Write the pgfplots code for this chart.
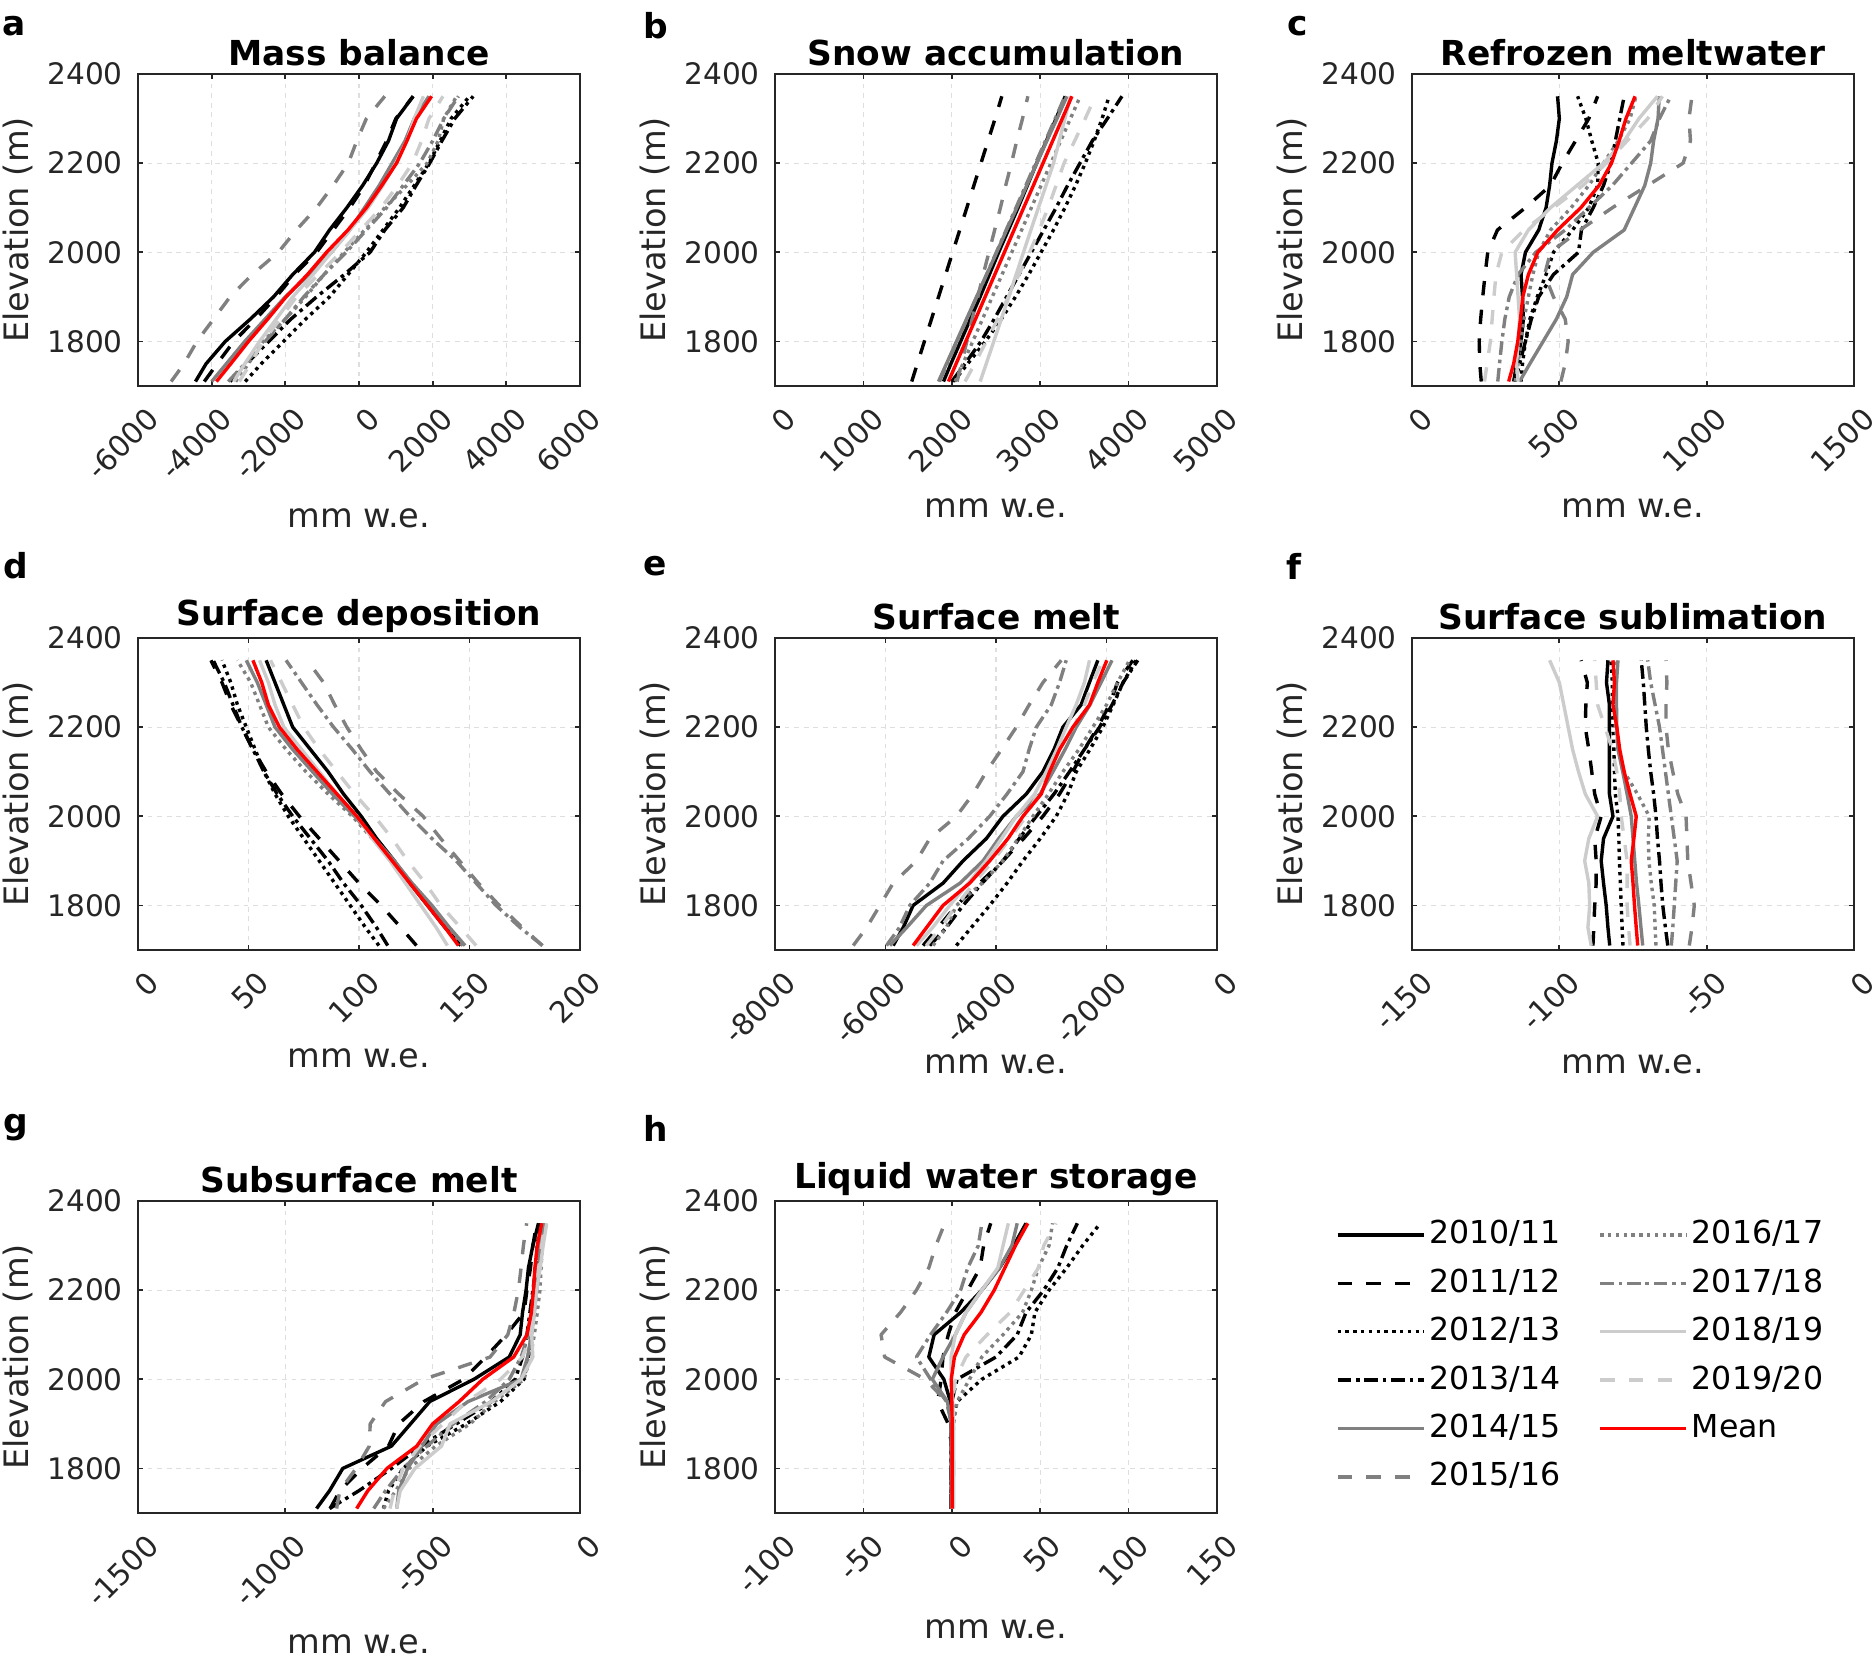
\documentclass[border=0pt]{standalone}
\usepackage{fontspec}
\setmainfont{DejaVu Sans}
\usepackage{pgfplots}
\pgfplotsset{compat=1.18}
\usepackage{pgfplotstable}

\definecolor{axc}{RGB}{38,38,38}
\definecolor{gA}{RGB}{128,128,128}
\definecolor{gB}{RGB}{204,204,204}
\definecolor{gridc}{RGB}{222,222,222}

\pgfplotsset{
 yrline/.style={line width=0.85pt, mark=none, line join=round},
 s10/.style={yrline, black, solid},
 s11/.style={yrline, black, dash pattern=on 3.6pt off 3.6pt},
 s12/.style={yrline, black, dash pattern=on 0.85pt off 1.1pt},
 s13/.style={yrline, black, dash pattern=on 3.4pt off 1.2pt on 0.9pt off 1.2pt},
 s14/.style={yrline, gA, solid},
 s15/.style={yrline, gA, dash pattern=on 3.6pt off 3.6pt},
 s16/.style={yrline, gA, dash pattern=on 0.85pt off 1.1pt},
 s17/.style={yrline, gA, dash pattern=on 3.4pt off 1.2pt on 0.9pt off 1.2pt},
 s18/.style={yrline, gB, solid},
 s19/.style={yrline, gB, dash pattern=on 3.6pt off 3.6pt},
 smean/.style={yrline, red, solid},
 every axis title shift=0pt,
 panel/.style={
  scale only axis, width=110.5pt, height=78pt, anchor=north west,
  ymin=1700, ymax=2400, ytick={1800,2000,2200,2400},
  grid=major,
  major grid style={gridc, line width=0.3pt, dash pattern=on 1.2pt off 1.2pt},
  axis line style={axc, line width=0.45pt},
  every tick/.style={axc, line width=0.45pt},
  tick align=inside, major tick length=1.2pt,
  /pgf/number format/assume math mode=true,
  /pgf/number format/1000 sep={},
  scaled ticks=false,
  ticklabel style={font=\fontsize{7.4}{8}\selectfont, text=axc},
  xticklabel style={xshift=1.75pt, yshift=-4.6pt, rotate=45, anchor=north east, inner sep=0pt},
  yticklabel style={anchor=east, inner sep=0pt, xshift=-3.6pt},
  label style={font=\fontsize{8.4}{10}\selectfont, text=axc},
  xlabel={mm w.e.}, ylabel={Elevation (m)},
  ylabel style={at={(axis description cs:-0.272,0.5)}, anchor=center},
  title style={at={(axis description cs:0.5,1.069)}, anchor=center, font=\bfseries\fontsize{8.6}{10}\selectfont, text=black},
 }
}

\newcommand{\allplots}[1]{%
 \addplot[s10] table[x=s10,y=E]{#1};
 \addplot[s11] table[x=s11,y=E]{#1};
 \addplot[s12] table[x=s12,y=E]{#1};
 \addplot[s13] table[x=s13,y=E]{#1};
 \addplot[s14] table[x=s14,y=E]{#1};
 \addplot[s15] table[x=s15,y=E]{#1};
 \addplot[s16] table[x=s16,y=E]{#1};
 \addplot[s17] table[x=s17,y=E]{#1};
 \addplot[s18] table[x=s18,y=E]{#1};
 \addplot[s19] table[x=s19,y=E]{#1};
 \addplot[smean] table[x=m,y=E]{#1};
}

% a: Mass balance
\pgfplotstableread{
E s10 s11 s12 s13 s14 s15 s16 s17 s18 s19 m
1710 -4440 -4200 -3090 -3500 -4000 -5100 -3350 -3550 -3400 -3250 -3870
1750 -4150 -3850 -2650 -3050 -3600 -4750 -3000 -3100 -3100 -2950 -3480
1800 -3630 -3400 -2050 -2450 -3100 -4400 -2600 -2550 -2700 -2600 -3000
1850 -2950 -2800 -1450 -1850 -2550 -3950 -2000 -2000 -2250 -2150 -2480
1900 -2320 -2250 -800 -1150 -2000 -3500 -1450 -1500 -1800 -1700 -1980
1950 -1800 -1750 -300 -400 -1350 -2900 -950 -950 -1250 -1100 -1400
2000 -1210 -1150 200 300 -750 -2190 -400 -350 -750 -500 -880
2050 -800 -700 650 700 -250 -1700 150 200 -250 50 -300
2100 -330 -250 1100 1200 150 -1150 700 750 250 600 200
2150 100 150 1500 1550 550 -700 1300 1200 650 1050 620
2200 480 450 1900 1920 900 -290 1850 1650 1000 1450 1020
2250 800 750 2200 2250 1250 -60 2150 2000 1300 1700 1300
2300 1020 1000 2500 2600 1500 200 2300 2300 1500 1900 1560
2350 1470 1470 3000 3100 1900 700 2650 2700 1750 2280 1970
}\ta

% b: Snow accumulation
\pgfplotstableread{
E s10 s11 s12 s13 s14 s15 s16 s17 s18 s19 m
1710 1906 1547 2020 2000 1849 2060 2038 1860 2321 2150 1962
1750 1990 1610 2180 2150 1940 2110 2126 1949 2390 2260 2049
1800 2100 1690 2380 2330 2053 2170 2237 2060 2475 2390 2158
1850 2210 1770 2560 2480 2166 2230 2347 2171 2560 2520 2268
1900 2320 1850 2720 2620 2280 2295 2458 2282 2645 2640 2377
1950 2425 1930 2870 2760 2394 2355 2568 2393 2728 2760 2486
2000 2530 2010 3010 2900 2508 2420 2679 2504 2811 2880 2595
2050 2640 2090 3150 3040 2620 2485 2790 2615 2895 2990 2704
2100 2750 2170 3280 3180 2735 2550 2900 2726 2980 3090 2813
2150 2855 2250 3400 3310 2848 2610 3010 2837 3066 3180 2923
2200 2960 2330 3510 3450 2962 2675 3121 2948 3151 3270 3032
2250 3070 2410 3610 3590 3075 2735 3232 3059 3215 3390 3141
2300 3180 2490 3700 3760 3190 2800 3342 3170 3280 3510 3250
2350 3283 2566 3780 3925 3302 2861 3453 3280 3340 3623 3359
}\tb

% c: Refrozen meltwater
\pgfplotstableread{
E s10 s11 s12 s13 s14 s15 s16 s17 s18 s19 m
1710 345 235 370 350 365 505 350 291 360 246 328
1750 355 230 375 365 400 520 360 297 355 255 345
1800 370 228 385 385 445 530 370 305 360 266 359
1850 378 233 400 405 490 520 380 315 365 272 368
1900 375 240 425 430 525 480 395 330 360 278 376
1950 370 248 455 480 545 450 410 360 355 285 395
2000 385 257 480 565 615 470 430 420 350 305 427
2050 430 290 545 575 720 570 470 520 395 380 494
2100 455 385 600 615 755 680 540 600 470 480 573
2150 467 470 630 650 790 800 600 680 560 580 635
2200 475 510 632 675 810 920 650 745 650 660 677
2250 490 555 610 690 820 945 700 810 720 730 703
2300 500 600 590 705 835 940 740 840 770 800 726
2350 494 630 562 720 839 950 760 878 833 850 757
}\tc

% d: Surface deposition
\pgfplotstableread{
E s10 s11 s12 s13 s14 s15 s16 s17 s18 s19 m
1710 146 126 109 113 148 183 147 183 140 153 145
1750 139 119 103 108 141 174 139 173 135 146 139
1800 131 110 96 101 133 163.5 131 162 128 137 131
1850 123 100 89 93 124 154 123 153 121 130 123
1900 116 91 82 86 116 145.5 115 144 114 122 115
1950 108 82 75 78 107 137 106 133 106 115 107
2000 101 73 68 70 98 129 97 123 99 107 99
2050 93 65 62 63 88 118 86 114 90 98 90
2100 86 58 57 57 79 108 76 105 82 90 81
2150 78 52 53 52 70 101 67 97 74 82 72
2200 70 47 49 47 62 94.5 59 88.5 66 75 64
2250 66 42 45 43 58 89 55 81 62 70 59
2300 62 38 42 39 54 84 51 74 59 65 56
2350 58 33 38 34 49 76.5 45 67 55 60 52
}\td

% e: Surface melt
\pgfplotstableread{
E s10 s11 s12 s13 s14 s15 s16 s17 s18 s19 m
1710 -5861 -5320 -4717 -5199 -5921 -6584 -5139 -5982 -5440 -5259 -5500
1750 -5681 -5050 -4450 -4900 -5620 -6343 -4900 -5750 -5150 -5000 -5259
1800 -5500 -4717 -4114 -4596 -5259 -6102 -4717 -5560 -4837 -4717 -4958
1850 -4958 -4300 -3800 -4250 -4650 -5861 -4250 -5199 -4500 -4400 -4476
1900 -4596 -3873 -3512 -3873 -4235 -5440 -3873 -4958 -4175 -4050 -4114
1950 -4175 -3500 -3200 -3580 -3950 -5199 -3600 -4500 -3900 -3750 -3783
2000 -3873 -3151 -2910 -3271 -3632 -4717 -3331 -4114 -3632 -3452 -3512
2050 -3452 -2850 -2700 -2950 -3200 -4416 -3050 -3800 -3300 -3250 -3181
2100 -3151 -2608 -2548 -2669 -2969 -4175 -2789 -3512 -3090 -3050 -3030
2150 -2950 -2400 -2300 -2400 -2750 -3900 -2500 -3400 -2900 -2850 -2849
2200 -2789 -2157 -2066 -2126 -2548 -3632 -2247 -3271 -2729 -2600 -2608
2250 -2460 -1950 -1880 -1900 -2300 -3400 -2000 -3000 -2550 -2400 -2307
2300 -2310 -1800 -1700 -1700 -2100 -3151 -1800 -2850 -2400 -2250 -2157
2350 -2157 -1524 -1464 -1434 -1900 -2819 -1584 -2729 -2307 -2066 -1994
}\te

% f: Surface sublimation
\pgfplotstableread{
E s10 s11 s12 s13 s14 s15 s16 s17 s18 s19 m
1710 -82.9 -88.6 -78.4 -63.2 -71.7 -55.9 -67.2 -62 -89.2 -76 -73.4
1750 -83.5 -88.3 -78.7 -64 -72.3 -55 -67.5 -61.5 -90.3 -76.5 -73.9
1800 -84.1 -88 -79 -64.9 -73 -54.2 -67.8 -61 -89.7 -77 -74.5
1850 -85 -87.5 -79.3 -65.5 -73.8 -55.3 -68.8 -60.5 -90 -77 -75
1900 -85.8 -87.5 -79.6 -66 -74.4 -56.4 -69.6 -60 -91.4 -77 -75.6
1950 -85 -88 -79.8 -66.7 -75 -56.7 -69.8 -61 -90 -78 -74.7
2000 -81.8 -85.8 -80.1 -67.2 -75.6 -57 -69.5 -62 -87 -79 -73.9
2050 -83 -88 -81 -68 -77 -59.8 -73.5 -63 -91.2 -79.5 -76
2100 -83 -89 -81.3 -69 -78.5 -61.5 -78 -64 -93.5 -80.5 -78
2150 -83 -90 -81.5 -69.8 -80.1 -63 -80 -65 -95.5 -82 -79.5
2200 -83 -91.2 -81.8 -70.5 -80.5 -63.8 -81 -66 -97 -84.5 -80.5
2250 -83 -91 -82 -71 -80.6 -63.8 -81 -67.5 -98.5 -87 -81.8
2300 -84 -90.5 -82 -71.5 -80.6 -63.5 -81.5 -69 -100 -87.5 -81.3
2350 -83.5 -92.6 -82.5 -72.2 -80.1 -63.8 -81 -70 -103.3 -88 -81.8
}\tf

% g: Subsurface melt
\pgfplotstableread{
E s10 s11 s12 s13 s14 s15 s16 s17 s18 s19 m
1710 -894 -848 -667 -850 -622 -826 -667 -700 -622 -645 -758
1750 -850 -815 -650 -750 -615 -815 -625 -660 -610 -630 -720
1800 -805 -740 -600 -640 -585 -760 -580 -600 -560 -600 -655
1850 -640 -650 -520 -540 -537 -715 -490 -520 -470 -545 -554
1900 -575 -615 -385 -420 -486 -712 -373 -430 -441 -465 -500
1950 -510 -530 -270 -300 -380 -660 -290 -320 -300 -385 -410
2000 -360 -395 -190 -220 -200 -530 -190 -240 -200 -270 -330
2050 -240 -320 -175 -195 -178 -305 -168 -200 -160 -195 -225
2100 -203 -250 -165 -180 -165 -245 -155 -175 -164 -167 -180
2150 -195 -190 -160 -170 -155 -224 -145 -160 -155 -160 -165
2200 -183 -180 -155 -160 -147 -209 -136 -150 -147 -153 -158
2250 -175 -168 -145 -150 -140 -200 -132 -145 -135 -140 -153
2300 -160 -160 -135 -145 -135 -192 -128 -135 -125 -130 -145
2350 -141 -147 -125 -135 -124 -181 -119 -120 -113 -119 -130
}\tg

% h: Liquid water storage
\pgfplotstableread{
E s10 s11 s12 s13 s14 s15 s16 s17 s18 s19 m
1710 -0.2 -0.5 -0.4 -0.2 -0.2 -0.3 0.5 0 1 0.3 0.2
1750 -0.2 -0.5 -0.4 -0.2 -0.2 -0.3 0.5 0 1 0.3 0.2
1800 -0.3 -0.5 -0.4 -0.2 -0.2 -0.3 0.5 0 1.2 0.3 0.2
1850 -0.3 0 -0.4 -0.2 -0.3 -0.3 0.5 0 1 0.3 0.2
1900 -0.4 -2 0 -0.2 -0.4 0 1 0 1 0.3 0.2
1950 -0.8 -8 3 0 -2.5 -3 3 -3 0.5 0.5 0
2000 -4.5 -6 17 3 -11 -15 10 -12 -0.3 2 -0.3
2050 -13 -5 38 25 -5 -38 17 -20 -0.4 8 1.5
2100 -10 -2 45 37 2 -40 29 -12 2 20 7
2150 5 2 47 42 8 -29 40 -3 8 33 16.5
2200 17 9 55 52 17 -20 45 5 17 41 24
2250 27 16 65 60 27 -13 49 9 26 49 30
2300 35 18 74 65 34 -9 55 15 29 52 36
2350 42 22 84 71 37 -4 57 17 32 59 43
}\th

\begin{document}
\begin{tikzpicture}
\path[use as bounding box] (0,0) rectangle (468.75pt,-414.75pt);

\begin{axis}[panel, at={(34.5pt,-18.5pt)}, xmin=-6000, xmax=6000,
  xtick={-6000,-4000,-2000,0,2000,4000,6000}, title={Mass balance},
  xlabel style={at={(axis description cs:0.5,-0.423)}, anchor=center}]
\allplots{\ta}
\end{axis}

\begin{axis}[panel, at={(193.75pt,-18.5pt)}, xmin=0, xmax=5000,
  xtick={0,1000,2000,3000,4000,5000}, title={Snow accumulation},
  xlabel style={at={(axis description cs:0.5,-0.393)}, anchor=center}]
\allplots{\tb}
\end{axis}

\begin{axis}[panel, at={(353pt,-18.5pt)}, xmin=0, xmax=1500,
  xtick={0,500,1000,1500}, title={Refrozen meltwater},
  xlabel style={at={(axis description cs:0.5,-0.393)}, anchor=center}]
\allplots{\tc}
\end{axis}

\begin{axis}[panel, at={(34.5pt,-159.5pt)}, xmin=0, xmax=200,
  xtick={0,50,100,150,200}, title={Surface deposition},
  xlabel style={at={(axis description cs:0.5,-0.348)}, anchor=center}]
\allplots{\td}
\end{axis}

\begin{axis}[panel, at={(193.75pt,-159.5pt)}, xmin=-8000, xmax=0,
  xtick={-8000,-6000,-4000,-2000,0}, title={Surface melt},
  xlabel style={at={(axis description cs:0.5,-0.367)}, anchor=center}]
\allplots{\te}
\end{axis}

\begin{axis}[panel, at={(353pt,-159.5pt)}, xmin=-150, xmax=0,
  xtick={-150,-100,-50,0}, title={Surface sublimation},
  xlabel style={at={(axis description cs:0.5,-0.367)}, anchor=center}]
\allplots{\tf}
\end{axis}

\begin{axis}[panel, at={(34.5pt,-300.25pt)}, xmin=-1500, xmax=0,
  xtick={-1500,-1000,-500,0}, title={Subsurface melt},
  xlabel style={at={(axis description cs:0.5,-0.421)}, anchor=center}]
\allplots{\tg}
\end{axis}

\begin{axis}[panel, at={(193.75pt,-300.25pt)}, xmin=-100, xmax=150,
  xtick={-100,-50,0,50,100,150}, title={Liquid water storage},
  xlabel style={at={(axis description cs:0.5,-0.372)}, anchor=center}]
\allplots{\th}
\end{axis}

% legend
\begin{axis}[at={(333.75pt,-303.75pt)}, anchor=north west, hide axis,
  scale only axis, width=5pt, height=5pt, xmin=0, xmax=1, ymin=0, ymax=1,
  legend columns=2,
  legend image code/.code={\draw[#1] (0pt,0pt) -- (21.5pt,0pt);},
  legend cell align=left,
  legend style={at={(0,1)}, anchor=north west, draw=none, fill=none,
    inner sep=0pt, font=\fontsize{7.9}{9}\selectfont, row sep=2.6pt,
    nodes={inner sep=1pt, text height=6pt, text depth=1.5pt},
    /tikz/every even column/.append style={column sep=8.5pt}}]
\addlegendimage{s10}\addlegendentry{2010/11}
\addlegendimage{s16}\addlegendentry{2016/17}
\addlegendimage{s11}\addlegendentry{2011/12}
\addlegendimage{s17}\addlegendentry{2017/18}
\addlegendimage{s12}\addlegendentry{2012/13}
\addlegendimage{s18}\addlegendentry{2018/19}
\addlegendimage{s13}\addlegendentry{2013/14}
\addlegendimage{s19}\addlegendentry{2019/20}
\addlegendimage{s14}\addlegendentry{2014/15}
\addlegendimage{smean}\addlegendentry{Mean}
\addlegendimage{s15}\addlegendentry{2015/16}
\end{axis}

\begin{scope}[every node/.style={font=\bfseries\fontsize{8.6}{10}\selectfont, anchor=center}]
\node at (3.6pt,-6.5pt) {a};
\node at (164pt,-6.5pt) {b};
\node at (324.4pt,-6.5pt) {c};
\node at (3.9pt,-141.5pt) {d};
\node at (163.9pt,-141.5pt) {e};
\node at (323.5pt,-141.5pt) {f};
\node at (3.9pt,-282pt) {g};
\node at (163.9pt,-282pt) {h};
\end{scope}
\end{tikzpicture}
\end{document}
